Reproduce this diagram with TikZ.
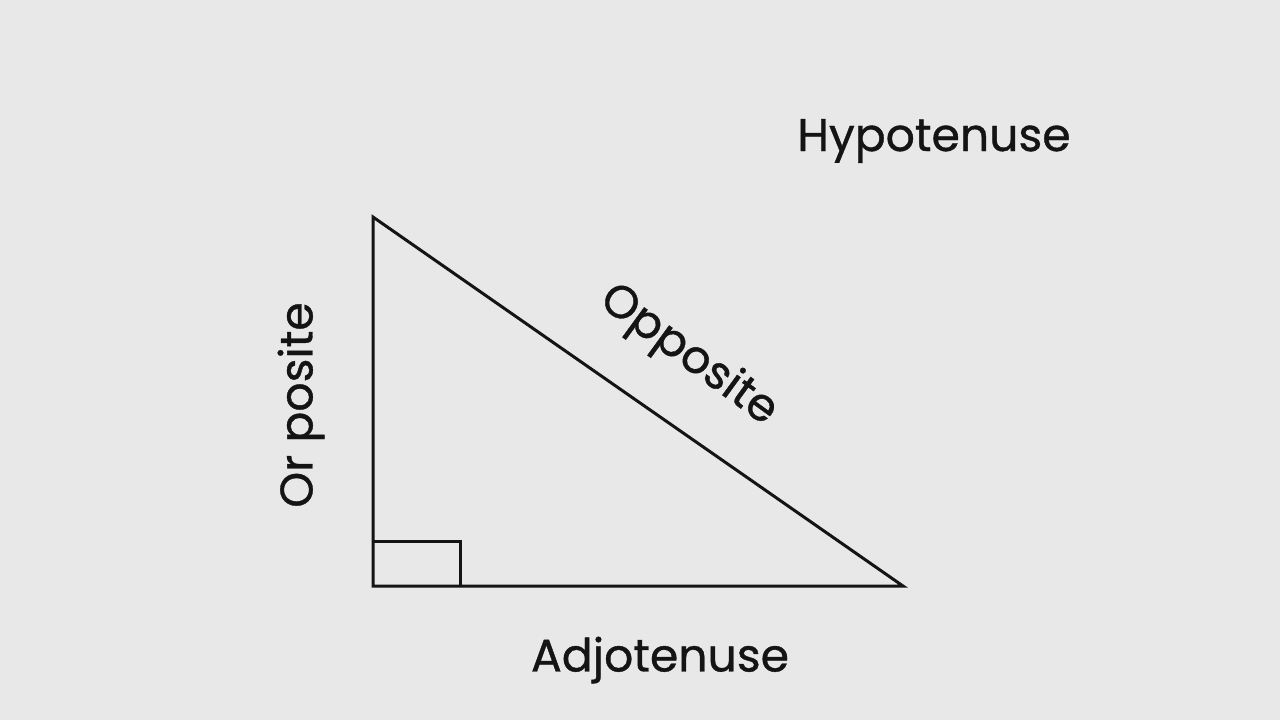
\documentclass[tikz,border=0pt]{standalone}
\usepackage{fontspec}
\setmainfont{Poppins}
\newfontfamily\lblfont{Poppins}[BoldFont=Poppins,BoldFeatures={FakeBold=0.8}]
\definecolor{bg}{HTML}{E8E8E8}
\definecolor{ink}{HTML}{141414}
\begin{document}
\begin{tikzpicture}[x=0.01cm,y=-0.01cm,
  edge/.style={draw=ink,line width=0.85pt,line join=miter},
  lbl/.style={text=ink,font=\lblfont\bfseries\fontsize{13pt}{15pt}\selectfont,inner sep=0pt}]
\fill[bg] (0,0) rectangle (1280,720);
\useasboundingbox (0,0) rectangle (1280,720);
\coordinate (A) at (373,217);
\coordinate (B) at (373,586);
\coordinate (C) at (903,586);
\coordinate (S1) at (373,541);
\coordinate (S2) at (460,586);
\draw[edge] (A) -- (B) -- (C) -- cycle;
\draw[edge] (S1) -| (S2);
\node[lbl] (hyp) at (934,141) {Hypotenuse};
\node[lbl] (adj) at (660,660) {Adjotenuse};
\node[lbl,rotate=-36] (opd) at (688,356) {Opposite};
\node[lbl,rotate=90] (opl) at (301,405) {Or posite};
\end{tikzpicture}
\end{document}
